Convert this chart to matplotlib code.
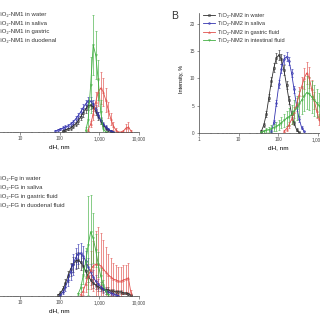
import matplotlib
matplotlib.use("Agg")
import matplotlib.pyplot as plt
from matplotlib.ticker import FixedLocator, LogLocator, NullFormatter

plt.rcParams['font.family'] = ['Liberation Sans Narrow', 'Liberation Sans', 'DejaVu Sans']
plt.rcParams['text.color'] = '#333333'
plt.rcParams['axes.edgecolor'] = '#444444'
plt.rcParams['xtick.color'] = '#444444'
plt.rcParams['ytick.color'] = '#444444'

# DLS size classes (nm)
bins = [37.84, 43.82, 50.75, 58.77, 68.06, 78.82, 91.28, 105.7, 122.4, 141.8,
        164.2, 190.1, 220.2, 255.0, 295.3, 342.0, 396.1, 458.7, 531.2, 615.1,
        712.4, 825.0, 955.4, 1106, 1281, 1484, 1718, 1990, 2305, 2669,
        3091, 3580, 4145, 4801, 5560, 6439]

xticks = [1, 10, 100, 1000, 10000]
xticklabels = ['1', '10', '100', '1,000', '10,000']

# Panel A: TiO2-NM1  (first bin index, intensities, errors)
a_water_start = 8
a_water = [0.25, 0.5, 0.75, 1, 1.5, 2, 2.75, 3.75, 4.75, 5.75, 6.5, 6.75, 6.25,
           5.25, 4, 2.75, 1.75, 1, 0.5, 0.25, 0]
a_water_err = [0.1, 0.2, 0.3, 0.4, 0.5, 0.6, 0.7, 0.8, 0.9, 1, 1, 1, 1, 1,
               0.9, 0.8, 0.6, 0.4, 0.3, 0.1, 0]
a_saliva_start = 5
a_saliva = [0.25, 0.5, 0.75, 1, 1.25, 1.5, 2, 2.5, 3.25, 4, 5, 6, 7, 7.75, 7.75,
            7, 5.75, 4.25, 3, 2, 1.25, 0.75, 0.25, 0]
a_saliva_err = [0.2, 0.3, 0.3, 0.4, 0.4, 0.5, 0.5, 0.6, 0.7, 0.8, 0.9, 1, 1, 1,
                1, 1, 0.9, 0.8, 0.7, 0.5, 0.4, 0.3, 0.2, 0]
a_gastric_start = 18
a_gastric = [0.5, 2, 4.5, 7.5, 10, 11, 10, 8, 5.5, 3.25, 1.5, 0.5, 0, 0, 0.25, 1,
             1.25, 0.25]
a_gastric_err = [0.3, 0.8, 1.5, 2.5, 3.5, 4, 3.5, 3, 2, 1.5, 1, 0.5, 0, 0, 0.3,
                 1, 1.2, 0.3]
a_duod_start = 17
a_duod = [0.25, 3, 11.75, 21.75, 19.25, 13, 5, 0.75, 0]
a_duod_err = [1, 5, 7, 7.5, 6, 5, 3, 1, 0]

# Panel B: TiO2-NM2
b_water_start = 0
b_water = [0.3, 1.5, 3.5, 6.5, 9.5, 12.0, 13.8, 14.3, 13.5, 11.5, 8.8, 6.0, 3.5,
           1.8, 0.6, 0.1]
b_water_err = [0.2, 0.4, 0.6, 0.7, 0.8, 0.9, 0.9, 0.9, 0.9, 0.9, 0.8, 0.7, 0.6,
               0.4, 0.3, 0.1]
b_saliva_start = 4
b_saliva = [0.3, 2.0, 5.5, 9.0, 11.8, 13.5, 14.0, 13.2, 11.0, 8.0, 5.0, 2.6, 1.0,
            0.3]
b_saliva_err = [0.2, 0.4, 0.6, 0.7, 0.8, 0.8, 0.8, 0.8, 0.8, 0.7, 0.6, 0.5, 0.3,
                0.1]
b_gastric_start = 9
b_gastric = [0.3, 0.8, 1.5, 2.5, 3.8, 5.2, 7.0, 8.5, 10.0, 11.0, 10.2, 8.0, 6.0,
             4.0, 2.5, 1.3, 0.6, 0.2]
b_gastric_err = [0.2, 0.4, 0.6, 0.8, 1.0, 1.2, 1.5, 1.7, 1.9, 2.0, 1.9, 1.8,
                 1.6, 1.3, 1.0, 0.7, 0.4, 0.2]
b_intest_start = 0
b_intest = [0.1, 0.3, 0.5, 0.6, 0.8, 1.0, 1.2, 1.5, 1.9, 2.3, 2.7, 3.0, 3.4, 4.0,
            4.6, 5.3, 6.0, 6.8, 7.4, 7.2, 6.6, 6.0, 5.5, 5.0, 4.6, 4.0]
b_intest_err = [0.1, 0.3, 0.4, 0.5, 0.6, 0.7, 0.8, 0.9, 1.0, 1.2, 1.4, 1.6, 1.8,
                2.0, 2.2, 2.4, 2.6, 2.8, 3.0, 3.0, 3.0, 2.8, 2.6, 2.4, 2.2, 2.0]

# Panel C: TiO2-FG
c_water_start = 6
c_water = [0.25, 0.7, 1.7, 3.1, 4.8, 6.5, 7.7, 8.5, 8.7, 8.2, 7.3, 6.1, 4.8, 3.9,
           3.1, 2.7, 2.2, 1.9, 1.7, 1.5, 1.5, 1.2, 1.2, 1, 1, 1, 0.7, 0.7, 0.5,
           0.25]
c_water_err = [0.2, 0.4, 0.7, 1, 1.3, 1.6, 1.8, 2, 2, 2, 1.9, 1.7, 1.5, 1.3, 1.1,
               1, 0.9, 0.8, 0.7, 0.6, 0.6, 0.5, 0.5, 0.4, 0.4, 0.4, 0.3, 0.3,
               0.2, 0.1]
c_saliva_start = 7
c_saliva = [0.25, 1, 2.2, 3.9, 5.8, 7.7, 9.2, 10.2, 10.4, 9.7, 8.5, 7, 5.8, 4.6,
            3.6, 2.9, 2.2, 1.7, 1.2, 1, 0.7, 0.5, 0.25, 0.1]
c_saliva_err = [0.2, 0.5, 1, 1.5, 2, 2.5, 2.5, 2.5, 2.5, 2.5, 2.5, 2.2, 2, 1.8,
                1.5, 1.3, 1.1, 0.9, 0.7, 0.5, 0.4, 0.3, 0.2, 0.1]
c_gastric_start = 15
c_gastric = [0.25, 1.2, 2.9, 4.8, 6.3, 7.3, 7.7, 7.7, 7.3, 6.5, 5.8, 5.1, 4.6,
             4.1, 3.9, 3.6, 3.6, 3.9, 4.1, 4.4, 0.7]
c_gastric_err = [0.3, 1, 2, 3, 4.5, 6, 8, 9, 8, 7, 6, 5, 4.5, 4, 3.5, 3.5, 3.5,
                 3.5, 3.5, 3.5, 0.8]
c_duod_start = 14
c_duod = [0.5, 1.9, 4.8, 8.2, 12.3, 15.5, 14, 11.1, 7.7, 4.8, 2.7, 1.2, 0.25]
c_duod_err = [0.3, 1, 2, 3.5, 12, 9, 6, 4, 3, 2, 1.2, 0.6, 0.2]

colors = ['#2e2e2e', '#3434b0', '#e0504c', '#44b044']
markers = ['s', 'o', '^', 'v']

labels_a = ['TiO₂-NM1 in water', 'TiO₂-NM1 in saliva',
            'TiO₂-NM1 in gastric', 'TiO₂-NM1 in duodenal']
labels_b = ['TiO₂-NM2 in water', 'TiO₂-NM2 in saliva',
            'TiO₂-NM2 in gastric fluid', 'TiO₂-NM2 in intestinal fluid']
labels_c = ['TiO₂-Fg in water', 'TiO₂-FG in saliva',
            'TiO₂-FG in gastric fluid', 'TiO₂-FG in duodenal fluid']

W = 320.0


def px(x, y):
    return x / W, 1 - y / W


fig = plt.figure(figsize=(3.2, 3.2), dpi=100)

ax_a = fig.add_axes([-19.5 / W, 1 - 132 / W, 158 / W, 120 / W])
ax_b = fig.add_axes([199 / W, 1 - 133 / W, 158 / W, 120 / W])
ax_c = fig.add_axes([-19.5 / W, 1 - 296 / W, 158 / W, 124 / W])


def draw(ax, series, labels, ylim, legend_xy, lsize, lspace):
    for i, (start, vals, errs) in enumerate(series):
        xs = bins[start:start + len(vals)]
        ax.errorbar(xs, vals, yerr=errs, color=colors[i], lw=0.6,
                    marker=markers[i], ms=1.3, mew=0.4, mfc='none',
                    elinewidth=0.45, capsize=1.0, capthick=0.45,
                    label=labels[i])
    ax.set_xscale('log')
    ax.set_xlim(1, 10000)
    ax.set_ylim(*ylim)
    ax.xaxis.set_major_locator(FixedLocator(xticks))
    ax.set_xticklabels(xticklabels)
    ax.xaxis.set_minor_locator(LogLocator(base=10, subs=range(2, 10)))
    ax.xaxis.set_minor_formatter(NullFormatter())
    ax.tick_params(axis='both', which='major', labelsize=3.4, length=1.8,
                   width=0.4, pad=1.2, direction='out')
    ax.tick_params(axis='x', which='minor', length=1.0, width=0.3,
                   direction='out')
    for s in ['top', 'right']:
        ax.spines[s].set_visible(False)
    for s in ['left', 'bottom']:
        ax.spines[s].set_linewidth(0.5)
    ax.set_xlabel('dH, nm', fontsize=4.6, labelpad=2)
    handles, labs = ax.get_legend_handles_labels()
    handles = [h[0] for h in handles]
    em = lsize * 100 / 72.0
    ax.legend(handles, labs, loc='upper left', bbox_to_anchor=px(*legend_xy),
              bbox_transform=fig.transFigure, frameon=False, fontsize=lsize,
              handlelength=12 / em, handletextpad=3 / em, labelspacing=lspace,
              borderpad=0, borderaxespad=0)


draw(ax_a, [(a_water_start, a_water, a_water_err),
            (a_saliva_start, a_saliva, a_saliva_err),
            (a_gastric_start, a_gastric, a_gastric_err),
            (a_duod_start, a_duod, a_duod_err)],
     labels_a, (0, 30), (-18, 11.5), 4.3, 0.62)

draw(ax_b, [(b_water_start, b_water, b_water_err),
            (b_saliva_start, b_saliva, b_saliva_err),
            (b_gastric_start, b_gastric, b_gastric_err),
            (b_intest_start, b_intest, b_intest_err)],
     labels_b, (0, 22), (203, 13), 4.1, 0.58)
ax_b.set_yticks([0, 5, 10, 15, 20])
ax_b.set_ylabel('Intensity, %', fontsize=4.0)
ax_b.yaxis.set_label_coords(-0.095, 0.45)
fig.text(*px(171, 16), 'B', fontsize=7.5, va='center', ha='left')

draw(ax_c, [(c_water_start, c_water, c_water_err),
            (c_saliva_start, c_saliva, c_saliva_err),
            (c_gastric_start, c_gastric, c_gastric_err),
            (c_duod_start, c_duod, c_duod_err)],
     labels_c, (0, 30), (-18, 176), 4.3, 0.62)

fig.savefig('out.png', dpi=100, facecolor='white')
